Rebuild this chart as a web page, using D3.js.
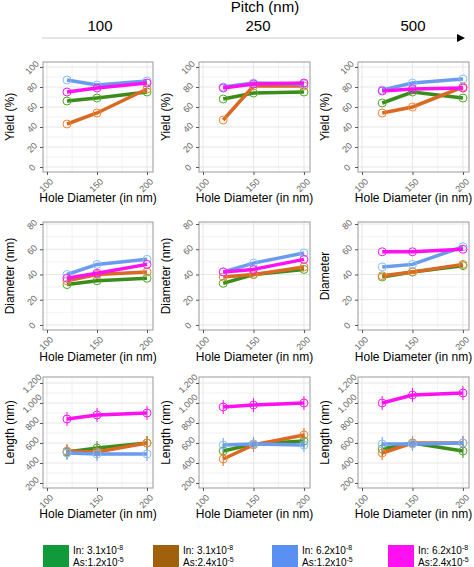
<!DOCTYPE html><html><head><meta charset="utf-8"><script src="https://cdn.jsdelivr.net/npm/d3@7"></script>
<style>body{margin:0;background:#fff}text{font-family:"Liberation Sans",Arial,sans-serif}</style></head><body><svg id="c" width="474" height="567"></svg><script>
const holes=[120,150,200];
const pitches=["100","250","500"];
const seriesNames=["green","orange","blue","magenta"];
const lineColors=["#3c8c1c","#d96a24","#6b9bec","#ff10f0"];
const legendColors=["#119a3a","#a0600c","#5a90f2","#ff10f0"];
const legendIn=["3.1","3.1","6.2","6.2"];
const legendAs=["1.2","2.4","1.2","2.4"];
const yieldVals=[
 [[66,69,75],[43,54,78],[87,82,86],[75,79,84]],
 [[68,74,75],[47,81,81],[80,84,83],[79,83,84]],
 [[64,75,69],[54,60,80],[77,84,88],[76,78,79]]];
const diamVals=[
 [[32,35,37],[35,40,42],[40,48,52],[37,41,48]],
 [[33,40,44],[38,40,46],[42,49,57],[42,44,52]],
 [[38,42,47],[39,42,48],[46,48,62],[58,58,60]]];
const lenVals=[
 [[510,550,600],[520,510,600],[500,490,490],[840,880,900]],
 [[520,590,620],[440,580,680],[580,590,580],[960,980,1000]],
 [[540,600,520],[500,600,600],[590,590,600],[1000,1080,1100]]];
const xTicks=[100,150,200];
const rows=[
 {data:yieldVals,dom:[-5,105],ticks:[0,20,40,60,80,100],top:62,bot:172,lab:["Yield (%)","Yield (%)","Yield (%)"],xl:202},
 {data:diamVals,dom:[-4,81.6],ticks:[0,20,40,60,80],top:222,bot:330,lab:["Diameter (nm)","Diameter (nm)","Diameter"],xl:361},
 {data:lenVals,dom:[150,1260],ticks:[200,400,600,800,1000,1200],top:377,bot:488,lab:["Length (nm)","Length (nm)","Length (nm)"],xl:518}];
const cols=[{l:43,r:153},{l:199,r:310},{l:358,r:469}];
const svg=d3.select("#c");
svg.append("text").attr("x",265).attr("y",12).attr("text-anchor","middle").attr("font-size",15).text("Pitch (nm)");
[100,258,413].forEach((x,i)=>svg.append("text").attr("x",x).attr("y",31).attr("text-anchor","middle").attr("font-size",15).text(pitches[i]));
svg.append("line").attr("x1",42).attr("x2",458).attr("y1",38).attr("y2",38).attr("stroke","#ddd").attr("stroke-width",1.5);
svg.append("path").attr("d","M457,34L465,38L457,42Z").attr("fill","#000");
rows.forEach((row,ri)=>{cols.forEach((c,ci)=>{
 const x=d3.scaleLinear().domain([96,206]).range([c.l,c.r]);
 const y=d3.scaleLinear().domain(row.dom).range([row.bot,row.top]);
 const g=svg.append("g");
 const minor=[];for(let i=0;i<row.ticks.length-1;i++)minor.push((row.ticks[i]+row.ticks[i+1])/2);
 [125,175].forEach(v=>g.append("line").attr("x1",x(v)).attr("x2",x(v)).attr("y1",row.top).attr("y2",row.bot).attr("stroke","#f2f2f2"));
 minor.forEach(v=>g.append("line").attr("x1",c.l).attr("x2",c.r).attr("y1",y(v)).attr("y2",y(v)).attr("stroke","#f2f2f2"));
 xTicks.forEach(v=>g.append("line").attr("x1",x(v)).attr("x2",x(v)).attr("y1",row.top).attr("y2",row.bot).attr("stroke","#e6e6e6"));
 row.ticks.forEach(v=>g.append("line").attr("x1",c.l).attr("x2",c.r).attr("y1",y(v)).attr("y2",y(v)).attr("stroke","#e6e6e6"));
 g.append("rect").attr("x",c.l).attr("y",row.top).attr("width",c.r-c.l).attr("height",row.bot-row.top).attr("fill","none").attr("stroke","#999").attr("stroke-width",1);
 const ya=g.append("g").attr("transform",`translate(${c.l},0)`).call(d3.axisLeft(y).tickValues(row.ticks).tickSize(3).tickPadding(2));
 ya.select(".domain").remove();ya.selectAll("line").attr("stroke","#555");
 ya.selectAll("text").attr("font-size",9).attr("fill","#666").attr("text-anchor","middle").attr("x",0).attr("dy","0.35em").attr("transform","translate(-11,0) rotate(-45)");
 const xa=g.append("g").attr("transform",`translate(0,${row.bot})`).call(d3.axisBottom(x).tickValues(xTicks).tickSize(3).tickPadding(2));
 xa.select(".domain").remove();xa.selectAll("line").attr("stroke","#555");
 xa.selectAll("text").attr("font-size",9).attr("fill","#666").attr("text-anchor","end").attr("x",0).attr("y",0).attr("dy","0.35em").attr("transform","translate(4,8) rotate(-45)");
 g.append("text").attr("transform",`translate(${c.l-29},${(row.top+row.bot)/2}) rotate(-90)`).attr("text-anchor","middle").attr("font-size",12).text(row.lab[ci]);
 g.append("text").attr("x",(c.l+c.r)/2).attr("y",row.xl).attr("text-anchor","middle").attr("font-size",12).text("Hole Diameter (in nm)");
 const line=d3.line().x((d,i)=>x(holes[i])).y(d=>y(d));
 row.data[ci].forEach((s,si)=>{
  g.append("path").attr("d",line(s)).attr("fill","none").attr("stroke",lineColors[si]).attr("stroke-width",3.5);
  s.forEach((v,i)=>{
   if(ri==2)g.append("line").attr("x1",x(holes[i])).attr("x2",x(holes[i])).attr("y1",y(v)-7).attr("y2",y(v)+7).attr("stroke",lineColors[si]).attr("stroke-width",1);
   g.append("circle").attr("cx",x(holes[i])).attr("cy",y(v)).attr("r",4).attr("fill","none").attr("stroke",d3.color(lineColors[si]).brighter(0.6)).attr("stroke-width",1);
  });
 });
});});
[43,153,272,388].forEach((lx,i)=>{
 const g=svg.append("g");
 g.append("rect").attr("x",lx).attr("y",545).attr("width",26).attr("height",24).attr("fill",legendColors[i]);
 const t1=g.append("text").attr("x",lx+30).attr("y",554).attr("font-size",10);
 t1.append("tspan").text("In: "+legendIn[i]+"x10");t1.append("tspan").attr("dy",-4).attr("font-size",7).text("-8");
 const t2=g.append("text").attr("x",lx+30).attr("y",566).attr("font-size",10);
 t2.append("tspan").text("As:"+legendAs[i]+"x10");t2.append("tspan").attr("dy",-4).attr("font-size",7).text("-5");
});
</script></body></html>
